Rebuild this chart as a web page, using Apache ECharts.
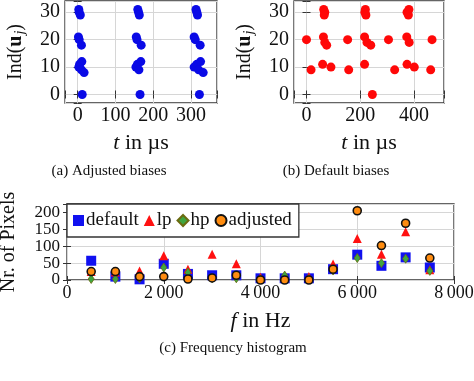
<!DOCTYPE html>
<html><head><meta charset="utf-8">
<script src="https://cdn.jsdelivr.net/npm/echarts@6/dist/echarts.min.js"></script>
<style>html,body{margin:0;padding:0;background:#fff}#c{width:474px;height:381px}</style>
</head><body><div id="c"></div>
<script>
// (a) Adjusted biases: spike times t (µs) and neuron index
var adjustedT   = [3, 4, 7, 2, 4, 10, 11, 5, 3, 10, 17, 12,
                   159, 161, 163, 155, 157, 168, 167, 158, 154, 162, 165,
                   313, 315, 317, 308, 311, 324, 325, 315, 308, 320, 332, 322];
var adjustedInd = [31, 30, 29, 21, 20, 18, 12, 11, 10, 9, 8, 0,
                   31, 30, 29, 21, 20, 18, 12, 11, 10, 9, 0,
                   31, 30, 29, 21, 20, 18, 12, 11, 10, 9, 8, 0];
// (b) Default biases
var defaultT   = [0, 17, 60, 91, 157, 153, 63, 68, 75, 64, 68, 66,
                  219, 217, 221, 216, 225, 239, 216, 245, 305, 328, 374, 401, 462, 467,
                  373, 382, 381, 374, 379];
var defaultInd = [20, 9, 11, 10, 9, 20, 21, 19, 18, 31, 30, 29,
                  31, 30, 29, 21, 19, 18, 11, 0, 20, 9, 11, 10, 9, 20,
                  21, 19, 31, 30, 29];
// (c) Frequency histogram
var freqs          = [500, 1000, 1500, 2000, 2500, 3000, 3500, 4000, 4500, 5000, 5500, 6000, 6500, 7000, 7500];
var defaultCounts  = [57, 10, 2, 48, 18, 14, 14, 5, 5, 5, 32, 75, 42, 67, 37];
var lpCounts       = [25, 24, 27, 72, 32, 76, 48, 8, 10, 10, 47, 123, 76, 143, 30];
var hpCounts       = [3, 3, 5, 37, 22, 5, 5, 2, 13, 3, 28, 65, 50, 63, 27];
var adjustedCounts = [25, 25, 10, 10, 3, 6, 14, 0, 0, 0, 32, 205, 102, 168, 65];
var seriesNames = ['default', 'lp', 'hp', 'adjusted'];

function pairs(xs, ys) { return xs.map(function (x, i) { return [x, ys[i]]; }); }

var SERIF = '"Liberation Serif", "DejaVu Serif", serif';
var FRAME = '#333333';
var GRIDC = '#d6d6d6';

function stepFormatter(step) {
  return function (v) {
    if (Math.abs(v / step - Math.round(v / step)) > 1e-6) return '';
    return String(v).replace(/\B(?=(\d{3})+(?!\d))/g, '\u2009');
  };
}

function mainX(gi, min, max, split, step, fs, margin, nameRich, gap) {
  return {
    type: 'value', gridIndex: gi, min: min, max: max, splitNumber: split,
    axisLine: { show: false },
    axisTick: { inside: true, length: 4, lineStyle: { color: FRAME } },
    splitLine: { show: true, lineStyle: { color: GRIDC, width: 1 } },
    axisLabel: { color: '#111', fontFamily: SERIF, fontSize: fs, margin: margin, hideOverlap: false,
      formatter: stepFormatter(step) },
    name: nameRich.text, nameLocation: 'middle', nameGap: gap,
    nameTextStyle: { color: '#111', fontFamily: SERIF, fontSize: nameRich.fs, rich: nameRich.rich }
  };
}
function mirrorX(gi, min, max, split) {
  return { type: 'value', gridIndex: gi, position: 'top', min: min, max: max, splitNumber: split,
    axisLine: { show: false }, axisLabel: { show: false }, splitLine: { show: false },
    axisTick: { inside: true, length: 4, lineStyle: { color: FRAME } } };
}
function mainY(gi, min, max, split, step, fs, margin, nameRich, gap, interval) {
  var a = {
    type: 'value', gridIndex: gi, min: min, max: max, splitNumber: split,
    axisLine: { show: false },
    axisTick: { inside: true, length: 4, lineStyle: { color: FRAME } },
    splitLine: { show: true, lineStyle: { color: GRIDC, width: 1 } },
    axisLabel: { color: '#111', fontFamily: SERIF, fontSize: fs, lineHeight: 12, margin: margin, hideOverlap: false,
      formatter: stepFormatter(step) },
    name: nameRich.text, nameLocation: 'middle', nameGap: gap, nameRotate: 90,
    nameTextStyle: { color: '#111', fontFamily: SERIF, fontSize: nameRich.fs, rich: nameRich.rich }
  };
  if (interval) a.interval = interval;
  return a;
}
function mirrorY(gi, min, max, split, interval) {
  var a = { type: 'value', gridIndex: gi, position: 'right', min: min, max: max, splitNumber: split,
    axisLine: { show: false }, axisLabel: { show: false }, splitLine: { show: false },
    axisTick: { inside: true, length: 4, lineStyle: { color: FRAME } } };
  if (interval) a.interval = interval;
  return a;
}

var indName = { text: '{n|Ind(}{u|u}{s|j}{n|)}', fs: 20, rich: {
  n: { fontFamily: SERIF, fontSize: 20, color: '#111' },
  u: { fontFamily: SERIF, fontSize: 20, fontWeight: 'bold', color: '#111' },
  s: { fontFamily: SERIF, fontSize: 14, fontStyle: 'italic', color: '#111', padding: [9, 0, 0, 1] } } };
var tName = { text: '{i|t} in µs', fs: 22, rich: { i: { fontFamily: SERIF, fontSize: 22, fontStyle: 'italic', color: '#111' } } };
var fName = { text: '{i|f} in Hz', fs: 22, rich: { i: { fontFamily: SERIF, fontSize: 22, fontStyle: 'italic', color: '#111' } } };
var pName = { text: 'Nr. of Pixels', fs: 20, rich: {} };

var gridBase = { show: true, borderColor: FRAME, borderWidth: 1.3, backgroundColor: 'transparent', containLabel: false, outerBoundsMode: 'none' };
function grid(l, t, w, h) { return Object.assign({ left: l, top: t, width: w, height: h }, gridBase); }

var pixelsY = mainY(2, 0, 225, 4, 50, 17, 7, pName, 48, 50);
pixelsY.axisLabel.showMinLabel = true;

var chart = echarts.init(document.getElementById('c'), null, { renderer: 'canvas' });
chart.setOption({
  animation: false,
  backgroundColor: '#fff',
  grid: [ grid(65, 1, 152, 102), grid(294, 1, 150, 102), grid(67, 204, 387, 76) ],
  xAxis: [
    mainX(0, -33.5, 368.5, 4, 100, 20, 3, tName, 29),
    mainX(1, -46.5, 511.5, 3, 200, 20, 3, tName, 29),
    (function () { var a = mainX(2, 0, 8000, 4, 2000, 18, 4, fName, 30); a.interval = 2000; return a; })(),
    mirrorX(0, -33.5, 368.5, 4),
    mirrorX(1, -46.5, 511.5, 3),
    (function () { var a = mirrorX(2, 0, 8000, 4); a.interval = 2000; return a; })()
  ],
  yAxis: [
    mainY(0, -3.1, 34.1, 4, 10, 20, 5, indName, 38),
    mainY(1, -3.1, 34.1, 4, 10, 20, 5, indName, 38),
    pixelsY,
    mirrorY(0, -3.1, 34.1, 4),
    mirrorY(1, -3.1, 34.1, 4),
    mirrorY(2, 0, 225, 4, 50)
  ],
  legend: {
    left: 67, top: 204, orient: 'horizontal', itemGap: 5, itemWidth: 11, itemHeight: 11,
    padding: [7, 7, 7, 6], backgroundColor: '#fff', borderColor: FRAME, borderWidth: 1.3,
    textStyle: { fontFamily: SERIF, fontSize: 19, color: '#111', padding: [0, 0, 0, -3] },
    data: seriesNames
  },
  series: [
    { type: 'scatter', xAxisIndex: 0, yAxisIndex: 0, symbol: 'circle', symbolSize: 9,
      itemStyle: { color: '#0a0ae6', opacity: 1 }, data: pairs(adjustedT, adjustedInd) },
    { type: 'scatter', xAxisIndex: 1, yAxisIndex: 1, symbol: 'circle', symbolSize: 9,
      itemStyle: { color: '#ff0808', opacity: 1 }, data: pairs(defaultT, defaultInd) },
    { name: seriesNames[0], type: 'scatter', xAxisIndex: 2, yAxisIndex: 2, symbol: 'rect', symbolSize: 10,
      itemStyle: { color: '#1010f0', opacity: 1 }, data: pairs(freqs, defaultCounts) },
    { name: seriesNames[1], type: 'scatter', xAxisIndex: 2, yAxisIndex: 2, symbol: 'triangle', symbolSize: 9,
      itemStyle: { color: '#ff1010', opacity: 1 }, data: pairs(freqs, lpCounts) },
    { name: seriesNames[2], type: 'scatter', xAxisIndex: 2, yAxisIndex: 2, symbol: 'diamond', symbolSize: [6, 9],
      itemStyle: { color: '#3fa63f', borderColor: '#6b6b10', borderWidth: 0.8, opacity: 1 }, data: pairs(freqs, hpCounts) },
    { name: seriesNames[3], type: 'scatter', xAxisIndex: 2, yAxisIndex: 2, symbol: 'circle', symbolSize: 8,
      itemStyle: { color: '#ff8c10', borderColor: '#111', borderWidth: 1.6, opacity: 1 }, data: pairs(freqs, adjustedCounts) }
  ],
  graphic: [
    { type: 'text', x: 109, y: 171, style: { text: '(a) Adjusted biases', font: '15px ' + SERIF, fill: '#111', align: 'center', verticalAlign: 'middle' } },
    { type: 'text', x: 336, y: 171, style: { text: '(b) Default biases', font: '15px ' + SERIF, fill: '#111', align: 'center', verticalAlign: 'middle' } },
    { type: 'text', x: 233, y: 348, style: { text: '(c) Frequency histogram', font: '15px ' + SERIF, fill: '#111', align: 'center', verticalAlign: 'middle' } }
  ]
});
</script></body></html>
